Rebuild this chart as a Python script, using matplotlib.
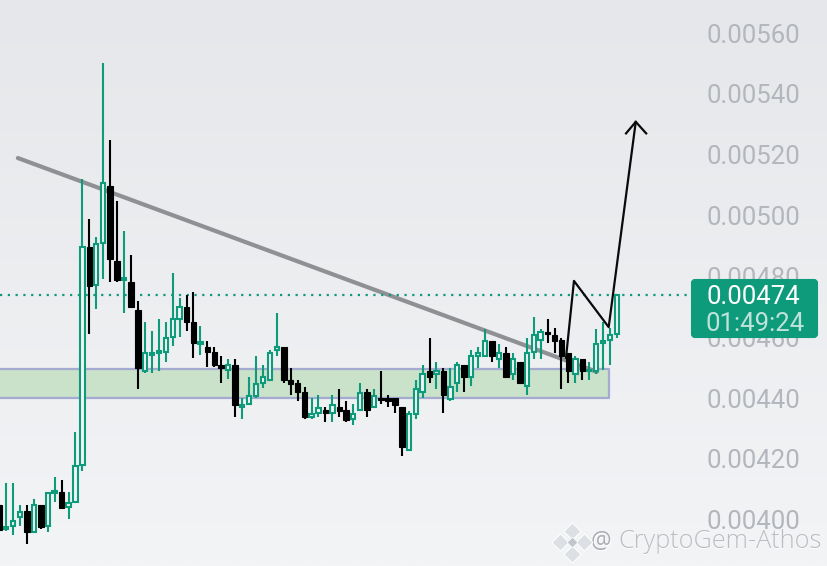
import matplotlib
matplotlib.use("Agg")
import matplotlib.pyplot as plt
import numpy as np
from matplotlib.patches import FancyBboxPatch

# prices are in units of 0.00001
opens = [404.8, 397.0, 397.9, 400.9, 402.8, 396.0, 404.8, 397.9, 408.8, 409.1,
         404.2, 405.8, 418.0, 489.6, 477.1, 491.0, 509.7, 485.0, 478.8, 478.1,
         469.0, 448.9, 454.1, 454.8, 455.1, 460.1, 466.0, 469.9, 465.0, 457.8,
         456.8, 455.1, 450.8, 449.2, 450.8, 437.0, 438.0, 440.7, 445.0, 445.9,
         455.8, 456.8, 445.9, 445.0, 442.0, 433.8, 435.1, 436.0, 435.1, 437.0,
         436.0, 433.1, 436.0, 442.0, 437.0, 440.0, 440.0, 440.0, 437.0, 422.9,
         434.7, 442.0, 448.9, 447.9, 448.9, 439.7, 445.0, 450.8, 446.9, 453.8,
         453.8, 458.7, 452.8, 454.8, 447.9, 451.8, 444.0, 455.1, 459.1, 461.7,
         460.7, 459.1, 454.8, 447.9, 452.8, 448.9, 448.9, 458.1, 459.1, 461.0]
closes = [396.6, 397.6, 399.6, 402.5, 396.0, 404.8, 397.6, 408.8, 409.4, 403.8,
          405.5, 417.6, 489.6, 476.8, 490.6, 510.7, 485.7, 478.8, 479.5, 469.9,
          449.9, 454.8, 454.8, 455.5, 459.7, 466.0, 469.9, 465.0, 458.1, 458.4,
          455.1, 450.8, 449.9, 450.8, 437.7, 437.7, 440.7, 444.6, 446.9, 454.8,
          456.8, 445.9, 444.6, 442.0, 433.8, 434.7, 436.7, 435.1, 437.7, 435.7,
          432.8, 434.7, 441.6, 436.0, 440.7, 439.3, 439.0, 437.7, 423.9, 434.7,
          443.0, 447.9, 446.9, 448.9, 441.0, 443.6, 450.8, 446.9, 453.8, 454.8,
          458.7, 453.8, 454.8, 446.9, 452.8, 445.0, 454.8, 460.7, 461.7, 461.0,
          458.7, 453.8, 448.9, 452.8, 448.9, 449.2, 457.8, 458.7, 460.7, 473.9]
highs = [405.1, 412.1, 412.1, 404.8, 404.8, 406.8, 404.8, 408.8, 414.0, 413.0,
         409.1, 428.8, 512.0, 498.9, 493.0, 550.1, 524.8, 504.8, 494.9, 487.0,
         471.9, 465.0, 462.0, 466.0, 465.0, 481.1, 472.9, 473.9, 474.8, 463.7,
         458.7, 456.8, 453.8, 452.8, 452.8, 440.0, 446.9, 453.8, 450.8, 455.8,
         468.0, 456.8, 449.9, 445.9, 443.6, 440.0, 441.0, 437.0, 441.0, 443.0,
         439.0, 438.0, 445.0, 443.0, 443.0, 448.9, 441.0, 440.0, 437.0, 435.7,
         445.9, 450.8, 459.7, 451.8, 449.9, 449.9, 451.8, 450.8, 455.8, 456.8,
         462.7, 458.7, 457.8, 456.8, 454.8, 451.8, 459.7, 466.6, 462.7, 466.0,
         463.0, 459.7, 454.8, 453.8, 452.8, 451.8, 462.7, 465.0, 463.0, 473.9]
lows = [396.3, 396.3, 395.0, 397.9, 392.0, 396.0, 397.0, 396.0, 405.8, 403.8,
        400.2, 405.8, 416.0, 461.0, 469.3, 479.1, 478.1, 478.1, 468.0, 469.9,
        443.0, 448.2, 448.2, 448.9, 451.8, 457.1, 460.1, 462.0, 453.2, 454.1,
        450.2, 450.2, 445.0, 446.2, 433.8, 433.1, 438.0, 440.0, 443.3, 445.9,
        453.8, 445.0, 441.0, 439.0, 433.1, 433.1, 433.8, 432.1, 432.1, 433.8,
        432.1, 431.1, 436.0, 433.8, 437.0, 438.0, 437.0, 435.1, 420.9, 422.9,
        433.1, 440.0, 445.0, 443.0, 435.1, 439.0, 442.0, 442.0, 444.0, 449.9,
        453.8, 451.8, 449.9, 446.9, 445.9, 445.0, 441.0, 452.8, 452.8, 458.1,
        454.8, 443.0, 445.0, 445.0, 445.9, 445.9, 447.9, 449.2, 450.8, 459.7]

yticks = [400, 420, 440, 460, 480, 500, 520, 540, 560]
last_price = 473.9
zone_low, zone_high = 440.0, 449.5
zone_end = 87.8
trend_x = [2.7, 86.1]
trend_price = [518.9, 448.6]
arrow_x = [81.65, 82.8, 87.8, 91.7]
arrow_price = [453.2, 478.5, 463.3, 530.8]
head_x = [90.3, 91.7, 93.2]
head_price = [527.0, 530.8, 527.0]

GREEN = "#0e9b7c"
scale = 1e-5
o = np.array(opens) * scale
c = np.array(closes) * scale
h = np.array(highs) * scale
l = np.array(lows) * scale
x = np.arange(len(o))
up = c >= o

fig = plt.figure(figsize=(8.28, 5.66), dpi=100)
ax = fig.add_axes([0, 0, 1, 1])
ax.set_xlim(0.13, 119.39)
ax.set_ylim(384.77 * scale, 570.85 * scale)

# background gradient
grad = np.linspace(0, 1, 256).reshape(-1, 1)
ax.imshow(grad, aspect="auto", extent=(0, 1, 0, 1), transform=ax.transAxes,
          cmap=matplotlib.colors.LinearSegmentedColormap.from_list("bg", ["#e5e7ea", "#f3f4f6"]),
          zorder=0)

for s in ax.spines.values():
    s.set_visible(False)
ax.xaxis.set_visible(False)
ax.yaxis.tick_right()
ax.set_yticks(np.array(yticks) * scale)
ax.set_yticklabels(["%.5f" % (v * scale) for v in yticks], fontfamily="Roboto", fontsize=18.5)
ax.tick_params(axis="y", length=0, pad=-87.5, labelcolor="#b3b6bc")

# support zone
ax.fill_between([ax.get_xlim()[0], zone_end], zone_low * scale, zone_high * scale,
                facecolor="#c9e2c9", edgecolor="none", zorder=1)
ax.plot([ax.get_xlim()[0], zone_end, zone_end, ax.get_xlim()[0]],
        [zone_high * scale, zone_high * scale, zone_low * scale, zone_low * scale],
        color="#a4aad0", lw=1.6, zorder=1.1)

ax.plot(np.array(trend_x), np.array(trend_price) * scale, color="#8f9094", lw=3.0,
        solid_capstyle="round", zorder=1.2)
ax.plot([ax.get_xlim()[0], 99.3], [last_price * scale] * 2, color=GREEN, lw=1.6,
        linestyle=(0, (1, 2.5)), zorder=1.3)

# candles
ax.vlines(x[up], l[up], h[up], color=GREEN, lw=1.5, zorder=2)
ax.vlines(x[~up], l[~up], h[~up], color="black", lw=1.5, zorder=2)
ax.bar(x[up], (c - o)[up], bottom=o[up], width=0.62, facecolor="#f1f3f4",
       edgecolor=GREEN, linewidth=1.5, zorder=2.1)
ax.bar(x[~up], (c - o)[~up], bottom=o[~up], width=0.8, facecolor="black",
       edgecolor="black", linewidth=0.8, zorder=2.1)

ax.plot(arrow_x, np.array(arrow_price) * scale, color="#0a0a0a", lw=1.6, zorder=3)
ax.plot(head_x, np.array(head_price) * scale, color="#0a0a0a", lw=1.6, zorder=3)

# overlay in pixels for the price tag and watermark
ov = fig.add_axes([0, 0, 1, 1])
ov.set_xlim(0, 828)
ov.set_ylim(566, 0)
ov.axis("off")
ov.patch.set_alpha(0)
ov.add_patch(FancyBboxPatch((692, 280), 125, 57, boxstyle="round,pad=0,rounding_size=3",
                            facecolor=GREEN, edgecolor=GREEN, lw=1.5))
ov.text(753.5, 296.5, "0.00474", color="white", fontsize=18.5, family="Roboto", ha="center", va="center")
ov.text(755, 324, "01:49:24", color="#bfe3da", fontsize=18.5, family="Roboto", ha="center", va="center")

# watermark
ov.scatter([572, 560, 584, 572], [531, 542, 542, 554], marker="D", s=75, color="#dcdfe3",
           edgecolor="white", linewidth=0.7, zorder=5)
ov.scatter([572], [542], marker="D", s=30, color="#c2c5cb", edgecolor="white", linewidth=0.5, zorder=6)
ov.text(601.7, 542.7, "@", color="white", fontsize=16.5, family="Open Sans", ha="center", va="center")
ov.text(601, 542, "@", color="#a9acb3", fontsize=16.5, family="Open Sans", ha="center", va="center")
ov.text(618.7, 542.7, "CryptoGem-Athos", color="white", fontsize=18.2, family="Open Sans",
        fontweight="light", ha="left", va="center")
ov.text(618, 542, "CryptoGem-Athos", color="#b9bcc2", fontsize=18.2, family="Open Sans",
        fontweight="light", ha="left", va="center")

fig.savefig("out.png", dpi=100)
